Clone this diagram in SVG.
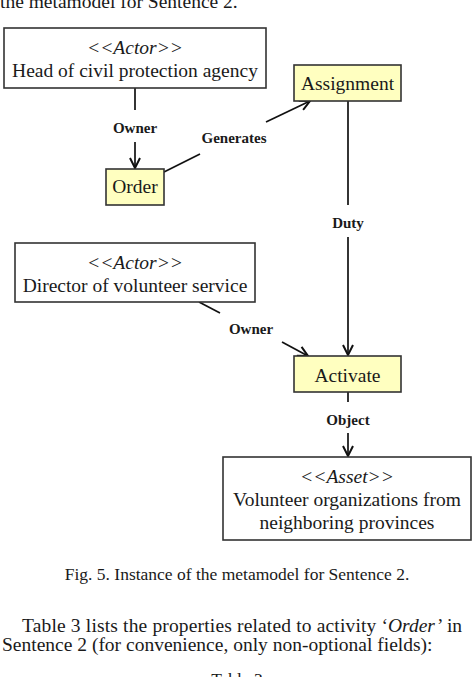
<svg xmlns="http://www.w3.org/2000/svg" width="474" height="677" viewBox="0 0 474 677">
<defs>
<style>
.box{fill:#ffffff;stroke:#333333;stroke-width:1.6}
.act{fill:#ffffc0;stroke:#333333;stroke-width:1.6}
.t{font-family:"Liberation Serif","Times New Roman",serif;font-size:19.5px;fill:#1a1a1a;text-anchor:middle}
.it{font-style:italic}
.lbl{font-family:"Liberation Serif","Times New Roman",serif;font-size:15px;font-weight:bold;fill:#1a1a1a;text-anchor:middle}
.p{font-family:"Liberation Serif","Times New Roman",serif;font-size:19.5px;fill:#1a1a1a}
.cap{font-family:"Liberation Serif","Times New Roman",serif;font-size:17.5px;fill:#1a1a1a;text-anchor:middle}
.c{fill:none;stroke:#111111;stroke-width:1.7}
</style>
<marker id="arr" viewBox="0 0 12 12" refX="11" refY="6" markerWidth="12" markerHeight="12" markerUnits="userSpaceOnUse" orient="auto">
<path d="M1,1 L11,6 L1,11" fill="none" stroke="#111111" stroke-width="2"/>
</marker>
</defs>
<rect width="474" height="677" fill="#ffffff"/>
<text class="p" x="0" y="8">the metamodel for Sentence 2.</text>

<g id="connectors">
<line class="c" x1="135" y1="88" x2="135" y2="110"/>
<line class="c" x1="135" y1="142" x2="135" y2="168" marker-end="url(#arr)"/>
<text class="lbl" x="135" y="133">Owner</text>
<line class="c" x1="164" y1="172" x2="200" y2="154"/>
<line class="c" x1="266" y1="122" x2="310" y2="101" marker-end="url(#arr)"/>
<text class="lbl" x="234" y="143">Generates</text>
<line class="c" x1="348" y1="101" x2="348" y2="205"/>
<line class="c" x1="348" y1="237" x2="348" y2="355" marker-end="url(#arr)"/>
<text class="lbl" x="348" y="228">Duty</text>
<line class="c" x1="199" y1="302" x2="220" y2="313"/>
<line class="c" x1="282" y1="342" x2="308" y2="356" marker-end="url(#arr)"/>
<text class="lbl" x="251" y="334">Owner</text>
<line class="c" x1="348" y1="392" x2="348" y2="402"/>
<line class="c" x1="348" y1="433" x2="348" y2="456" marker-end="url(#arr)"/>
<text class="lbl" x="348" y="425">Object</text>
</g>

<g id="head-actor">
<rect class="box" x="4" y="28" width="262" height="60"/>
<text class="t it" x="135" y="54">&lt;&lt;Actor&gt;&gt;</text>
<text class="t" x="135" y="77">Head of civil protection agency</text>
</g>
<g id="order">
<rect class="act" x="106" y="169" width="58" height="36"/>
<text class="t" x="135" y="193">Order</text>
</g>
<g id="assignment">
<rect class="act" x="294" y="65" width="107" height="36"/>
<text class="t" x="347.5" y="90">Assignment</text>
</g>
<g id="director-actor">
<rect class="box" x="15" y="243" width="240" height="59"/>
<text class="t it" x="135" y="269">&lt;&lt;Actor&gt;&gt;</text>
<text class="t" x="135" y="292">Director of volunteer service</text>
</g>
<g id="activate">
<rect class="act" x="294" y="356" width="107" height="36"/>
<text class="t" x="347.5" y="382">Activate</text>
</g>
<g id="asset">
<rect class="box" x="223" y="457" width="248" height="83"/>
<text class="t it" x="347" y="483">&lt;&lt;Asset&gt;&gt;</text>
<text class="t" x="347" y="506">Volunteer organizations from</text>
<text class="t" x="347" y="529">neighboring provinces</text>
</g>

<text class="cap" x="237" y="580">Fig. 5. Instance of the metamodel for Sentence 2.</text>
<text class="p" x="22" y="632" textLength="366" lengthAdjust="spacing">Table 3 lists the properties related to activity ‘</text>
<text class="p" x="388" y="632" font-style="italic">Order</text>
<text class="p" x="437" y="632">’ in</text>
<text class="p" x="2" y="651">Sentence 2 (for convenience, only non-optional fields):</text>
<text class="cap" x="237" y="685" font-size="14">Table 3</text>
</svg>
